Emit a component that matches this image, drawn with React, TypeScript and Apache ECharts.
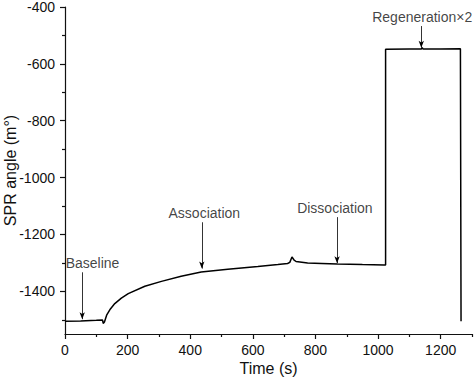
import React, { useEffect, useRef } from "react";
import * as echarts from "echarts";

// Sensorgram data (time in s, SPR angle in m°)
const timeS = [0, 50, 100, 120, 122, 126, 133, 145, 159, 180, 202, 255, 308, 371, 435, 520, 616, 680, 711, 718, 725, 731, 738, 775, 820, 870, 950, 1019, 1024, 1024, 1100, 1138, 1141, 1144, 1200, 1263, 1265];
const sprAngle = [-1505, -1504, -1502, -1501, -1513, -1508, -1484, -1462, -1443, -1424, -1408, -1382, -1365, -1347, -1332, -1322, -1313, -1306, -1302, -1298, -1279, -1289, -1295, -1300, -1302, -1304, -1306, -1307, -1307, -549, -548, -548, -543, -548, -548, -547, -1505];

// Annotation labels and arrows (data coordinates)
const annotationTexts = ["Baseline", "Association", "Dissociation", "Regeneration×2"];
const textX = [88, 445, 862, 1141];
const textY = [-1302, -1123, -1107, -435];
const arrowX = [55, 437, 869, 1138];
const arrowFrom = [-1333, -1157, -1139, -467];
const arrowTo = [-1498, -1320, -1301, -543];

// Axis ticks
const xMajor = [0, 200, 400, 600, 800, 1000, 1200];
const xMinor = [100, 300, 500, 700, 900, 1100, 1300];
const yMajor = [-1400, -1200, -1000, -800, -600, -400];
const yMinor = [-1500, -1300, -1100, -900, -700, -500];

const FONT = "'Liberation Sans', Arial, Helvetica, sans-serif";
const INK = "#111";

export default function App() {
  const ref = useRef<HTMLDivElement>(null);
  useEffect(() => {
    if (!ref.current) return;
    const chart = echarts.init(ref.current, undefined, { renderer: "svg" });
    const lineData = timeS.map((t, i) => [t, sprAngle[i]]);
    const textData = annotationTexts.map((n, i) => ({ name: n, value: [textX[i], textY[i]] }));
    const arrows = arrowX.map((x, i) => [
      { coord: [x, arrowFrom[i]] },
      { coord: [x, arrowTo[i]] },
    ]);
    const axisLineStyle = { color: INK, width: 1.2 };
    const plain = (v: number) => String(v);
    chart.setOption({
      animation: false,
      textStyle: { fontFamily: FONT },
      grid: { left: 65, right: 2, top: 7, bottom: 44, containLabel: false, outerBoundsMode: "none" },
      xAxis: [
        {
          type: "value",
          min: 0,
          max: 1300,
          position: "bottom",
          name: "Time (s)",
          nameLocation: "middle",
          nameGap: 26,
          nameMoveOverlap: false,
          nameTextStyle: { fontSize: 16, color: INK, fontFamily: FONT },
          axisLine: { show: true, onZero: false, lineStyle: axisLineStyle },
          axisTick: { show: true, length: 5, customValues: xMajor, lineStyle: axisLineStyle },
          axisLabel: { fontSize: 14, color: INK, margin: 9, customValues: xMajor, fontFamily: FONT, formatter: plain },
          splitLine: { show: false },
        },
        {
          type: "value",
          min: 0,
          max: 1300,
          position: "bottom",
          axisLine: { show: false, onZero: false },
          axisTick: { show: true, length: 3, customValues: xMinor, lineStyle: axisLineStyle },
          axisLabel: { show: false },
          splitLine: { show: false },
        },
      ],
      yAxis: [
        {
          type: "value",
          min: -1550,
          max: -400,
          position: "left",
          name: "SPR angle (m°)",
          nameLocation: "middle",
          nameGap: 47,
          nameMoveOverlap: false,
          nameTextStyle: { fontSize: 16, color: INK, fontFamily: FONT },
          axisLine: { show: true, onZero: false, lineStyle: axisLineStyle },
          axisTick: { show: true, length: 5, customValues: yMajor, lineStyle: axisLineStyle },
          axisLabel: { fontSize: 14, color: INK, margin: 10, customValues: yMajor, fontFamily: FONT, formatter: plain },
          splitLine: { show: false },
        },
        {
          type: "value",
          min: -1550,
          max: -400,
          position: "left",
          axisLine: { show: false, onZero: false },
          axisTick: { show: true, length: 3, customValues: yMinor, lineStyle: axisLineStyle },
          axisLabel: { show: false },
          splitLine: { show: false },
        },
      ],
      series: [
        {
          type: "line",
          data: lineData,
          showSymbol: false,
          symbol: "none",
          lineStyle: { color: "#000", width: 1.5 },
          itemStyle: { color: "#000" },
          markLine: {
            silent: true,
            symbol: ["none", "arrow"],
            symbolSize: [4, 7],
            label: { show: false },
            lineStyle: { color: "#000", width: 0.8, type: "solid" },
            data: arrows,
          },
        },
        {
          type: "scatter",
          data: textData,
          symbolSize: 1,
          itemStyle: { color: "rgba(0,0,0,0)" },
          silent: true,
          label: {
            show: true,
            position: "inside",
            formatter: (p: any) => p.name,
            fontSize: 14,
            color: INK,
            fontFamily: FONT,
          },
        },
      ],
    });
    return () => chart.dispose();
  }, []);
  return (
    <div
      ref={ref}
      style={{ position: "fixed", left: 0, top: 0, width: 474, height: 378, background: "#fff" }}
    />
  );
}
